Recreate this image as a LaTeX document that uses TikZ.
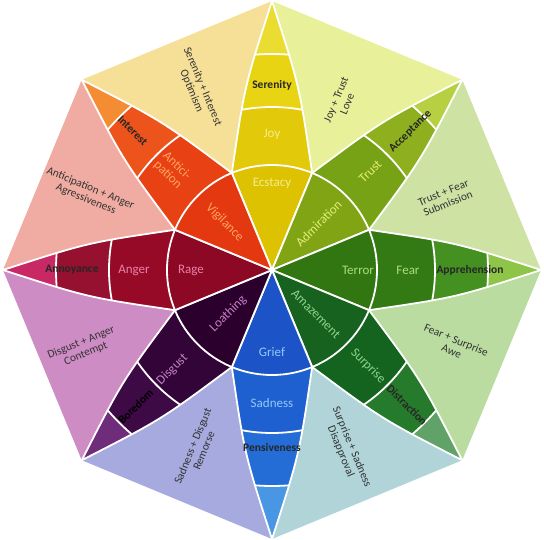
\documentclass[tikz,border=0pt]{standalone}
\usepackage{fontspec}
\setmainfont{Carlito}
\usepackage{tikz}

% petal colours: inner, middle, outer band, tip
\definecolor{ecst}{RGB}{220,194,0}
\definecolor{joyc}{RGB}{226,202,10}
\definecolor{seren}{RGB}{232,212,18}
\definecolor{joytip}{RGB}{234,220,48}
\definecolor{admir}{RGB}{128,164,20}
\definecolor{trustc}{RGB}{120,162,22}
\definecolor{accep}{RGB}{142,176,30}
\definecolor{trusttip}{RGB}{182,208,66}
\definecolor{terr}{RGB}{50,118,18}
\definecolor{fearc}{RGB}{52,122,20}
\definecolor{appre}{RGB}{68,144,32}
\definecolor{feartip}{RGB}{142,196,72}
\definecolor{amaz}{RGB}{22,98,30}
\definecolor{surpc}{RGB}{20,100,32}
\definecolor{distr}{RGB}{38,122,44}
\definecolor{surptip}{RGB}{96,162,104}
\definecolor{grief}{RGB}{28,84,200}
\definecolor{sadc}{RGB}{30,96,208}
\definecolor{pensi}{RGB}{36,108,214}
\definecolor{sadtip}{RGB}{72,150,228}
\definecolor{loath}{RGB}{44,0,44}
\definecolor{disgc}{RGB}{50,4,56}
\definecolor{bored}{RGB}{62,10,70}
\definecolor{disgtip}{RGB}{110,44,122}
\definecolor{rage}{RGB}{140,8,36}
\definecolor{angc}{RGB}{150,10,40}
\definecolor{annoy}{RGB}{150,16,48}
\definecolor{angtip}{RGB}{200,40,100}
\definecolor{vigil}{RGB}{228,56,16}
\definecolor{antic}{RGB}{232,66,20}
\definecolor{inter}{RGB}{236,84,28}
\definecolor{antitip}{RGB}{244,140,52}
% dyads
\definecolor{optim}{RGB}{246,224,152}
\definecolor{love}{RGB}{232,240,154}
\definecolor{subm}{RGB}{206,226,164}
\definecolor{awe}{RGB}{186,220,160}
\definecolor{disap}{RGB}{176,212,216}
\definecolor{remor}{RGB}{166,170,222}
\definecolor{contem}{RGB}{206,140,196}
\definecolor{aggr}{RGB}{240,172,162}
% label colours
\definecolor{ecsttxt}{RGB}{246,236,140}
\definecolor{trusttxt}{RGB}{222,238,120}
\definecolor{feartxt}{RGB}{170,222,120}
\definecolor{surptxt}{RGB}{140,212,140}
\definecolor{sadtxt}{RGB}{150,200,250}
\definecolor{disgtxt}{RGB}{196,130,196}
\definecolor{angtxt}{RGB}{232,130,170}
\definecolor{antitxt}{RGB}{255,164,100}

\tikzstyle{bright}=[font=\fontsize{13}{13}\selectfont, align=center, inner sep=0pt]
\tikzstyle{mild}=[font=\fontsize{11.5}{12}\selectfont\bfseries, text=black!85, inner sep=0pt]
\tikzstyle{dyad}=[font=\fontsize{11.3}{12}\selectfont, align=center, text=black!80, inner sep=0pt]
\tikzstyle{sep}=[draw=white, line width=1.8pt, line join=round]

\begin{document}
\begin{tikzpicture}[x=1pt,y=1pt]
  \useasboundingbox (-272,-270) rectangle (272,270);
  % combined feelings between the petals
  \foreach \a/\c in {0/subm, 45/love, 90/optim, 135/aggr, 180/contem, 225/remor, 270/disap, 315/awe}
    \fill[\c] (0,0) -- (\a:269) -- (\a+45:269) -- cycle;
  % the eight petals
  \foreach \a/\ci/\cii/\ciii/\civ in {90/ecst/joyc/seren/joytip, 45/admir/trustc/accep/trusttip,
      0/terr/fearc/appre/feartip, -45/amaz/surpc/distr/surptip, -90/grief/sadc/pensi/sadtip,
      -135/loath/disgc/bored/disgtip, 180/rage/angc/annoy/angtip, 135/vigil/antic/inter/antitip} {
    \begin{scope}
      \clip (0,0) -- (\a-22.5:105) .. controls (\a-8.5:186) .. (\a:269)
        .. controls (\a+8.5:186) .. (\a+22.5:105) -- cycle;
      \fill[\civ] (0,0) circle (269);
      \fill[\ciii] (0,0) circle (216);
      \fill[\cii] (0,0) circle (163);
      \fill[\ci] (0,0) circle (105);
      \draw[sep] (0,0) circle (216) (0,0) circle (163);
    \end{scope}
    \draw[sep] (0,0) -- (\a-22.5:105) .. controls (\a-8.5:186) .. (\a:269)
      .. controls (\a+8.5:186) .. (\a+22.5:105) -- cycle;
  }
  \draw[sep] (0,0) circle (105);

  % joy
  \node[bright, text=ecsttxt] (ecstacy) at (90:87) {Ecstacy};
  \node[bright, text=ecsttxt] (joy) at (90:136) {Joy};
  \node[mild] (serenity) at (90:185) {Serenity};
  % trust
  \node[bright, text=trusttxt, rotate=45] (admiration) at (45:66) {Admiration};
  \node[bright, text=trusttxt, rotate=45] (trust) at (45:139) {Trust};
  \node[mild, rotate=45] (acceptance) at (45:196) {Acceptance};
  % fear
  \node[bright, text=feartxt] (terror) at (0:86) {Terror};
  \node[bright, text=feartxt] (fear) at (0:136) {Fear};
  \node[mild] (apprehension) at (0:198) {Apprehension};
  % surprise
  \node[bright, text=surptxt, rotate=-45] (amazement) at (-45:62) {Amazement};
  \node[bright, text=surptxt, rotate=-45] (surprise) at (-45:136) {Surprise};
  \node[mild, rotate=-45] (distraction) at (-45:191) {Distraction};
  % sadness
  \node[bright, text=sadtxt] (grief) at (-90:82) {Grief};
  \node[bright, text=sadtxt] (sadness) at (-90:133) {Sadness};
  \node[mild] (pensiveness) at (-90:178) {Pensiveness};
  % disgust
  \node[bright, text=disgtxt, rotate=45] (loathing) at (-135:62) {Loathing};
  \node[bright, text=disgtxt, rotate=45] (disgust) at (-135:141) {Disgust};
  \node[mild, rotate=45, text=black] (boredom) at (-135:193) {Boredom};
  % anger
  \node[bright, text=angtxt] (rage) at (180:81) {Rage};
  \node[bright, text=angtxt] (anger) at (180:138) {Anger};
  \node[mild] (annoyance) at (180:200) {Annoyance};
  % anticipation
  \node[bright, text=antitxt, rotate=-45] (vigilance) at (135:67) {Vigilance};
  \node[bright, text=antitxt, rotate=-45] (anticipation) at (135:141) {Antici-\\pation};
  \node[mild, rotate=-45] (interest) at (135:197) {Interest};

  % dyads
  \node[dyad, rotate=-67.5] (optimism) at (112.5:196) {Serenity + Interest\\Optimism};
  \node[dyad, rotate=67.5] (lovelbl) at (67.5:182) {Joy + Trust\\Love};
  \node[dyad, rotate=22.5] (submission) at (22.5:188) {Trust + Fear\\Submission};
  \node[dyad, rotate=-22.5] (awelbl) at (-22.5:197) {Fear + Surprise\\Awe};
  \node[dyad, rotate=-67.5] (disapproval) at (-67.5:194) {Surprise + Sadness\\Disapproval};
  \node[dyad, rotate=67.5] (remorse) at (-112.5:193) {Sadness + Disgust\\Remorse};
  \node[dyad, rotate=22.5] (contempt) at (-157.5:204) {Disgust + Anger\\Contempt};
  \node[dyad, rotate=-22.5] (aggressiveness) at (157.5:199) {Anticipation + Anger\\Agressiveness};
\end{tikzpicture}
\end{document}
